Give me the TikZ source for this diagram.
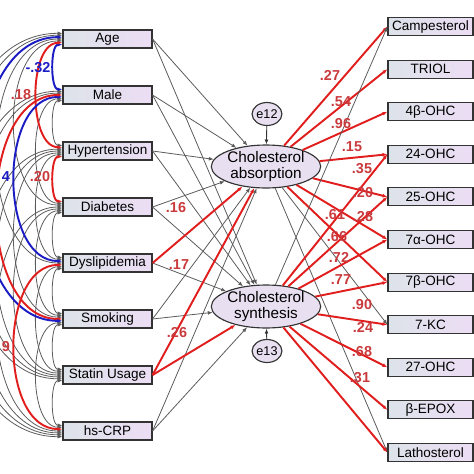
\documentclass[tikz,border=0pt]{standalone}
\usepackage{fontspec}
\setmainfont{Liberation Sans}
\usetikzlibrary{arrows.meta,shapes.geometric}
\definecolor{pathred}{HTML}{E01E1E}
\definecolor{labred}{HTML}{C93A3D}
\definecolor{covblue}{HTML}{1C1CC4}
\definecolor{boxl}{HTML}{DDE3EA}
\definecolor{boxr}{HTML}{ECDDF4}
\definecolor{ellfill}{HTML}{E8E0F1}
\definecolor{linegray}{HTML}{5A5A5A}
% covariance between left boxes i<j: style, i, j
\newcommand{\covar}[3]{%
  \pgfmathsetmacro\sa{(3-(#2-1)-(8-#3))*0.038}%
  \pgfmathsetmacro\sb{(3-(#3-1-#2))*0.038}%
  \pgfmathsetmacro\lo{min(1,0.55+0.15*(#3-#2))}%
  \draw[#1] ([yshift=\sa cm]L#2.west) to[out=180,in=180,looseness=\lo] ([yshift=\sb cm]L#3.west);}

\begin{document}
\begin{tikzpicture}[x=0.02cm,y=-0.02cm,
  >={Latex[length=2.8pt,width=2.2pt]},
  var/.style={draw=black!80,line width=0.65pt,left color=boxl,right color=boxr,
    minimum height=0.36cm,inner sep=0pt,font=\fontsize{7.7}{8}\selectfont},
  lat/.style={ellipse,draw=black!80,line width=0.65pt,fill=ellfill,minimum width=1.9cm,
    minimum height=0.86cm,inner sep=0pt,align=center,font=\fontsize{8.7}{9}\selectfont},
  err/.style={ellipse,draw=black!80,line width=0.65pt,fill=ellfill,minimum width=0.58cm,
    minimum height=0.46cm,inner sep=0pt,font=\fontsize{7.2}{8}\selectfont},
  gp/.style={->,linegray,line width=0.45pt},
  rp/.style={->,pathred,line width=1.1pt},
  cov/.style={<->,linegray,line width=0.45pt},
  rcov/.style={<->,pathred,line width=1.1pt},
  bcov/.style={<->,covblue,line width=1.1pt},
  coef/.style={font=\bfseries\fontsize{8.2}{9}\selectfont,text=labred,inner sep=0pt}]
\useasboundingbox (0,0) rectangle (474,474);
\clip (0,0) rectangle (474,474);

% observed variables
\foreach \t [count=\k] in {Age,Male,Hypertension,Diabetes,Dyslipidemia,Smoking,Statin Usage,hs-CRP}
  \node[var,minimum width=1.78cm] (L\k) at (107.5,{39+56*(\k-1)}) {\t};
\foreach \t [count=\k] in {Campesterol,TRIOL,4β-OHC,24-OHC,25-OHC,7α-OHC,7β-OHC,7-KC,27-OHC,β-EPOX,Lathosterol}
  \node[var,minimum width=1.7cm] (R\k) at (430.5,{26.5+42.6*(\k-1)}) {\t};

% latent variables
\node[lat] (abs) at (266,166.5) {Cholesterol\\absorption};
\node[lat] (syn) at (266,306.5) {Cholesterol\\synthesis};
\node[err] (e12) at (267,114) {e12};
\node[err] (e13) at (267,351) {e13};
\draw[->,black!80,line width=0.5pt] (e12) -- (abs);
\draw[->,black!80,line width=0.5pt] (e13) -- (syn);

% covariances
\foreach \i/\j in {1/4,1/5,1/7,1/8,2/3,2/4,2/7,2/8,3/5,3/6,3/7,3/8,4/5,4/6,4/7,4/8,5/6,5/7,6/7,6/8,7/8}
  {\covar{cov}{\i}{\j}}
\covar{bcov}{1}{2}
\covar{rcov}{1}{3}
\covar{rcov}{3}{4}
\covar{bcov}{2}{5}
\covar{rcov}{2}{6}
\covar{bcov}{1}{6}
\covar{rcov}{5}{8}

% paths into the latent variables
\foreach \k in {1,2,3,4,6,8}
  {\draw[gp] (L\k.east) -- (abs);
   \draw[gp] (L\k.east) -- (syn);}
\draw[gp] (L5.east) -- (syn);
\draw[rp] (L5.east) -- (abs);
\draw[rp] (L7.east) -- (abs);
\draw[rp] (L7.east) -- (syn);

% paths out of the latent variables
\foreach \k in {1,...,7}
  \draw[rp] (abs) -- (R\k.west);
\draw[gp] (abs) -- (R8.west);
\draw[gp] (abs) -- (R11.west);
\draw[gp] (syn) -- (R1.west);
\foreach \k in {4,...,11}
  \draw[rp] (syn) -- (R\k.west);

% estimates
\node[coef,text=covblue] (c32) at (38,68) {-.32};
\node[coef] (c18) at (21,95) {.18};
\node[coef,text=covblue] (c4) at (6,177) {4};
\node[coef] (c20) at (40,177) {.20};
\node[coef] (c9) at (6,347) {9};
\node[coef] (c16) at (176,208) {.16};
\node[coef] (c17) at (179,265) {.17};
\node[coef] (c26) at (177,333) {.26};
\node[coef] (c27) at (330,75) {.27};
\node[coef] (c54) at (341,102) {.54};
\node[coef] (c96) at (341,124) {.96};
\node[coef] (c15) at (352,147) {.15};
\node[coef] (c35) at (362,169) {.35};
\node[coef] (c20b) at (363,193) {.20};
\node[coef] (c61) at (335,215) {.61};
\node[coef] (c28) at (363,217) {.28};
\node[coef] (c66) at (337,237) {.66};
\node[coef] (c72) at (339,257) {.72};
\node[coef] (c77) at (341,280) {.77};
\node[coef] (c90) at (362,305) {.90};
\node[coef] (c24) at (363,327) {.24};
\node[coef] (c68) at (362,352) {.68};
\node[coef] (c31) at (360,378) {.31};
\end{tikzpicture}
\end{document}
